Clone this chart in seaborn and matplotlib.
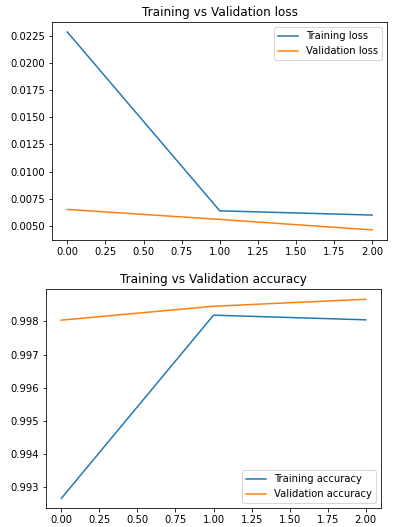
import matplotlib
matplotlib.use("Agg")
import matplotlib.pyplot as plt
import seaborn as sns

# values
epochs = [0, 1, 2]
train_loss = [0.02282, 0.00641, 0.00602]
val_loss = [0.00654, 0.00562, 0.00466]
train_acc = [0.99266, 0.99819, 0.99805]
val_acc = [0.99804, 0.99846, 0.99867]

dpi = 72
fig = plt.figure(figsize=(401 / dpi, 527 / dpi), dpi=dpi)

# 1. Loss
ax1 = fig.add_axes([0.130, 0.545, 0.836, 0.413])
sns.lineplot(x=epochs, y=train_loss, ax=ax1, label='Training loss')
sns.lineplot(x=epochs, y=val_loss, ax=ax1, label='Validation loss')
ax1.set_title('Training vs Validation loss')
ax1.legend(loc='upper right')

# 2. Accuracy
ax2 = fig.add_axes([0.115, 0.0355, 0.835, 0.4155])
sns.lineplot(x=epochs, y=train_acc, ax=ax2, label='Training accuracy')
sns.lineplot(x=epochs, y=val_acc, ax=ax2, label='Validation accuracy')
ax2.set_title('Training vs Validation accuracy')
ax2.legend(loc='lower right')

fig.savefig('out.png', dpi=dpi)
